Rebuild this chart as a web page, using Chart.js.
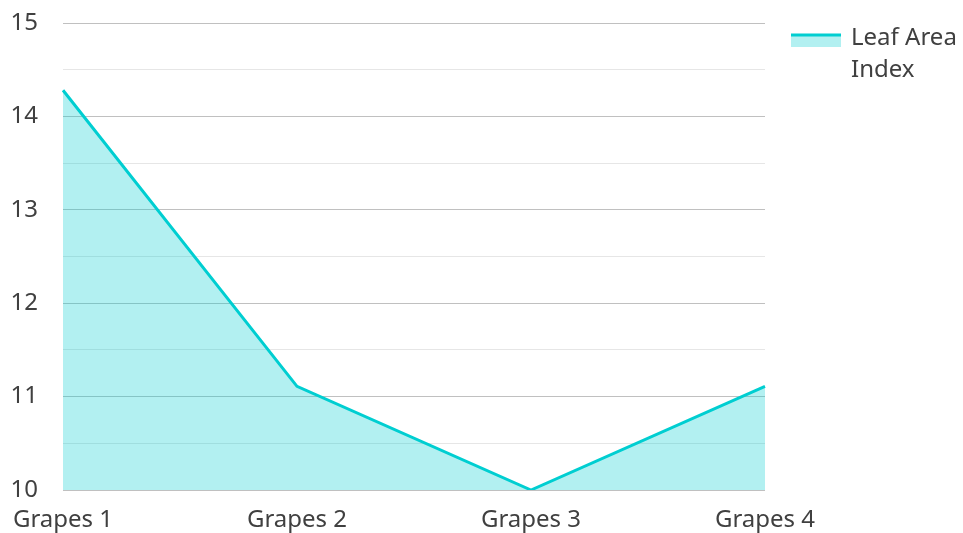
<!DOCTYPE html>
<html>
<head>
<meta charset="utf-8">
<script src="https://cdn.jsdelivr.net/npm/chart.js@4/dist/chart.umd.min.js"></script>
<style>
  html, body { margin: 0; padding: 0; background: #fff; }
  #wrap { width: 963px; height: 533px; }
</style>
</head>
<body>
<div id="wrap"><canvas id="chart"></canvas></div>
<script>
const categories = ['Grapes 1', 'Grapes 2', 'Grapes 3', 'Grapes 4'];
const leafAreaIndex = [14.28, 11.11, 10.0, 11.11];
const seriesName = ['Leaf Area', 'Index'];

const lineColor = 'rgb(0, 206, 209)';
const fillColor = 'rgba(0, 206, 209, 0.3)';
const textColor = '#404040';
const fontFamily = '"Noto Sans", "Open Sans", sans-serif';

// legend drawn by hand so the label can wrap on two lines
const sideLegend = {
    id: 'sideLegend',
    afterDraw(chart) {
        const ctx = chart.ctx;
        const x = 791, y = 35;
        ctx.save();
        ctx.fillStyle = fillColor;
        ctx.fillRect(x, y, 50, 12);
        ctx.strokeStyle = lineColor;
        ctx.lineWidth = 3;
        ctx.beginPath();
        ctx.moveTo(x, y);
        ctx.lineTo(x + 50, y);
        ctx.stroke();
        ctx.fillStyle = textColor;
        ctx.font = '24px ' + fontFamily;
        ctx.textBaseline = 'alphabetic';
        seriesName.forEach((line, i) => {
            ctx.fillText(line, 851, 45 + i * 32);
        });
        ctx.restore();
    }
};

new Chart(document.getElementById('chart'), {
    type: 'line',
    data: {
        labels: categories,
        datasets: [{
            label: seriesName.join(' '),
            data: leafAreaIndex,
            borderColor: lineColor,
            backgroundColor: fillColor,
            borderWidth: 3,
            fill: 'origin',
            pointRadius: 0,
            tension: 0
        }]
    },
    options: {
        responsive: true,
        maintainAspectRatio: false,
        animation: false,
        layout: { padding: { top: 23, right: 198, bottom: 0, left: 0 } },
        plugins: {
            legend: { display: false },
            tooltip: { enabled: false }
        },
        scales: {
            x: {
                offset: false,
                border: { display: false },
                grid: { display: false, drawTicks: false },
                ticks: {
                    color: textColor,
                    font: { family: fontFamily, size: 24 },
                    padding: 16,
                    maxRotation: 0
                },
                afterFit(scale) {
                    scale.height = 43;
                    scale.paddingLeft = 0;
                    scale.paddingRight = 0;
                }
            },
            y: {
                min: 10,
                max: 15,
                border: { display: false },
                grid: {
                    drawTicks: false,
                    lineWidth: 1,
                    color: c => Number.isInteger(c.tick.value) ? '#c0c0c0' : '#e6e6e6'
                },
                ticks: {
                    stepSize: 0.5,
                    color: textColor,
                    font: { family: fontFamily, size: 24 },
                    padding: 25,
                    callback: v => Number.isInteger(v) ? v : ''
                },
                afterFit(scale) {
                    scale.width = 63;
                    scale.paddingTop = 0;
                    scale.paddingBottom = 0;
                }
            }
        }
    },
    plugins: [sideLegend]
});
</script>
</body>
</html>
